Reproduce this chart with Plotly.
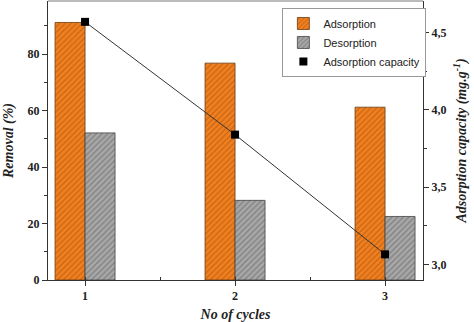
import plotly.graph_objects as go

cycles = [1, 2, 3]
adsorption = [91.2, 76.8, 61.2]
desorption = [52.1, 28.2, 22.5]
capacity = [4.57, 3.84, 3.065]

serif = "Liberation Serif"
fig = go.Figure()
fig.add_trace(go.Bar(
    x=cycles, y=adsorption, name="Adsorption", width=0.2, offset=-0.2,
    marker=dict(color="#F08020", line=dict(color="#6a3a10", width=0.8),
                pattern=dict(shape="/", fgcolor="#A04A05", size=4, solidity=0.3)),
))
fig.add_trace(go.Bar(
    x=cycles, y=desorption, name="Desorption", width=0.2, offset=0,
    marker=dict(color="#A8A8A8", line=dict(color="#444444", width=0.8),
                pattern=dict(shape="/", fgcolor="#555555", size=4, solidity=0.3)),
))
fig.add_trace(go.Scatter(
    x=cycles, y=capacity, name="Adsorption capacity line", yaxis="y2",
    mode="lines", line=dict(color="#333333", width=1), showlegend=False,
))
fig.add_trace(go.Scatter(
    x=cycles, y=capacity, name="Adsorption capacity", yaxis="y2",
    mode="markers", marker=dict(symbol="square", size=8, color="black"),
))

tickfont = dict(family=serif, size=12, color="#222", weight="bold")
titlefont = dict(family=serif, size=14, color="#222", weight="bold", style="italic")

fig.update_layout(
    width=474, height=322,
    margin=dict(l=48, r=51, t=1, b=42),
    plot_bgcolor="white", paper_bgcolor="white",
    separators=",.",
    barmode="overlay",
    showlegend=True,
    legend=dict(x=0.625, y=0.975, xanchor="left", yanchor="top",
                bgcolor="white", bordercolor="#999", borderwidth=1,
                font=dict(family="Liberation Sans", size=11, color="#222"),
                tracegroupgap=0, itemwidth=30),
    xaxis=dict(range=[0.753, 3.253], tickvals=[1, 2, 3], ticktext=["1", "2", "3"],
               showgrid=False, zeroline=False, showline=True, linecolor="#333", linewidth=1,
               ticks="outside", ticklen=5, tickcolor="#333", tickfont=tickfont,
               minor=dict(ticks="inside", ticklen=3, dtick=0.5, tick0=0.5, tickcolor="#333"),
               title=dict(text="No of cycles", font=titlefont, standoff=8)),
    yaxis=dict(range=[0, 98.8], tickvals=[0, 20, 40, 60, 80],
               showgrid=False, zeroline=False, showline=True, linecolor="#333", linewidth=1,
               ticks="outside", ticklen=5, tickcolor="#333", tickfont=tickfont,
               minor=dict(ticks="outside", ticklen=3, dtick=10, tickcolor="#333"),
               title=dict(text="Removal (%)", font=titlefont, standoff=10)),
    yaxis2=dict(range=[2.899, 4.705], overlaying="y", side="right",
                tickvals=[3.0, 3.5, 4.0, 4.5], tickformat=".1f",
                showgrid=False, zeroline=False, showline=True, linecolor="#333", linewidth=1,
                ticks="outside", ticklen=5, tickcolor="#333", tickfont=tickfont,
                minor=dict(ticks="outside", ticklen=3, dtick=0.25, tickcolor="#333"),
                title=dict(text="Adsorption capacity (mg.g<sup>-1</sup>)", font=titlefont, standoff=10)),
    shapes=[dict(type="line", xref="paper", yref="paper", x0=0, x1=1, y0=1, y1=1,
                 line=dict(color="#bbbbbb", width=2))],
)

fig.write_html("out.html")
